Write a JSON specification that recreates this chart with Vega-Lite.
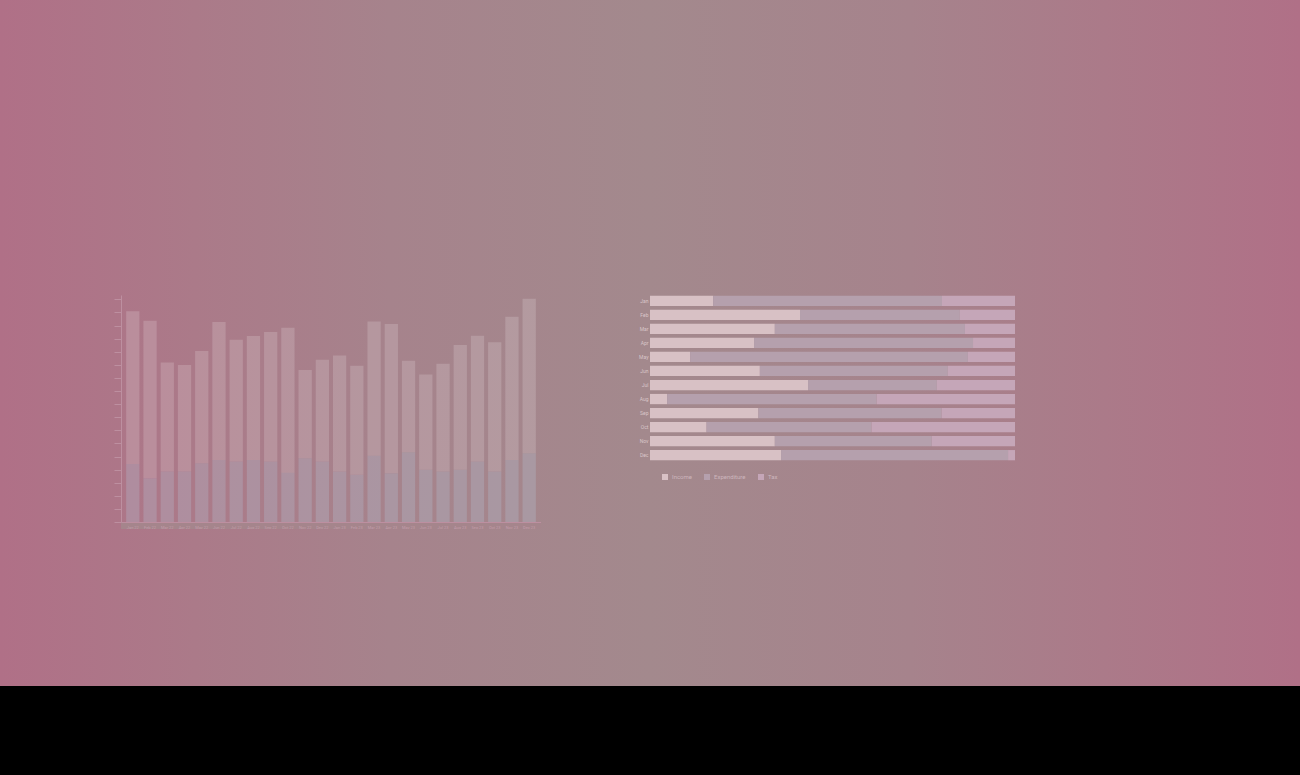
{
  "$schema": "https://vega.github.io/schema/vega-lite/v6.json",
  "background": "#a5858c",
  "padding": 0,
  "spacing": 0,
  "config": {
    "view": {"stroke": null},
    "font": "Roboto"
  },
  "datasets": {
    "blank": [{}],
    "left": [
      {"period": "Jan 22", "part": "Base", "value": 26.6}, {"period": "Jan 22", "part": "Top", "value": 69.9},
      {"period": "Feb 22", "part": "Base", "value": 20.0}, {"period": "Feb 22", "part": "Top", "value": 72.2},
      {"period": "Mar 22", "part": "Base", "value": 23.1}, {"period": "Mar 22", "part": "Top", "value": 50.0},
      {"period": "Apr 22", "part": "Base", "value": 23.1}, {"period": "Apr 22", "part": "Top", "value": 48.8},
      {"period": "May 22", "part": "Base", "value": 26.9}, {"period": "May 22", "part": "Top", "value": 51.5},
      {"period": "Jun 22", "part": "Base", "value": 28.4}, {"period": "Jun 22", "part": "Top", "value": 63.2},
      {"period": "Jul 22", "part": "Base", "value": 27.7}, {"period": "Jul 22", "part": "Top", "value": 55.8},
      {"period": "Aug 22", "part": "Base", "value": 28.4}, {"period": "Aug 22", "part": "Top", "value": 56.8},
      {"period": "Sep 22", "part": "Base", "value": 27.7}, {"period": "Sep 22", "part": "Top", "value": 59.3},
      {"period": "Oct 22", "part": "Base", "value": 22.6}, {"period": "Oct 22", "part": "Top", "value": 66.4},
      {"period": "Nov 22", "part": "Base", "value": 29.2}, {"period": "Nov 22", "part": "Top", "value": 40.4},
      {"period": "Dec 22", "part": "Base", "value": 27.7}, {"period": "Dec 22", "part": "Top", "value": 46.6},
      {"period": "Jan 23", "part": "Base", "value": 23.1}, {"period": "Jan 23", "part": "Top", "value": 53.2},
      {"period": "Feb 23", "part": "Base", "value": 21.6}, {"period": "Feb 23", "part": "Top", "value": 50.0},
      {"period": "Mar 23", "part": "Base", "value": 30.4}, {"period": "Mar 23", "part": "Top", "value": 61.5},
      {"period": "Apr 23", "part": "Base", "value": 22.3}, {"period": "Apr 23", "part": "Top", "value": 68.4},
      {"period": "May 23", "part": "Base", "value": 32.0}, {"period": "May 23", "part": "Top", "value": 41.9},
      {"period": "Jun 23", "part": "Base", "value": 23.9}, {"period": "Jun 23", "part": "Top", "value": 43.7},
      {"period": "Jul 23", "part": "Base", "value": 23.1}, {"period": "Jul 23", "part": "Top", "value": 49.4},
      {"period": "Aug 23", "part": "Base", "value": 23.9}, {"period": "Aug 23", "part": "Top", "value": 57.2},
      {"period": "Sep 23", "part": "Base", "value": 27.7}, {"period": "Sep 23", "part": "Top", "value": 57.6},
      {"period": "Oct 23", "part": "Base", "value": 23.1}, {"period": "Oct 23", "part": "Top", "value": 59.3},
      {"period": "Nov 23", "part": "Base", "value": 28.4}, {"period": "Nov 23", "part": "Top", "value": 65.6},
      {"period": "Dec 23", "part": "Base", "value": 31.5}, {"period": "Dec 23", "part": "Top", "value": 70.8}
    ],
    "right": [
      {"month": "Jan", "type": "Income", "share": 17.3}, {"month": "Jan", "type": "Expenditure", "share": 62.7}, {"month": "Jan", "type": "Tax", "share": 20.0},
      {"month": "Feb", "type": "Income", "share": 41.1}, {"month": "Feb", "type": "Expenditure", "share": 43.8}, {"month": "Feb", "type": "Tax", "share": 15.1},
      {"month": "Mar", "type": "Income", "share": 34.2}, {"month": "Mar", "type": "Expenditure", "share": 52.1}, {"month": "Mar", "type": "Tax", "share": 13.7},
      {"month": "Apr", "type": "Income", "share": 28.5}, {"month": "Apr", "type": "Expenditure", "share": 60.0}, {"month": "Apr", "type": "Tax", "share": 11.5},
      {"month": "May", "type": "Income", "share": 11.0}, {"month": "May", "type": "Expenditure", "share": 76.1}, {"month": "May", "type": "Tax", "share": 12.9},
      {"month": "Jun", "type": "Income", "share": 30.1}, {"month": "Jun", "type": "Expenditure", "share": 51.5}, {"month": "Jun", "type": "Tax", "share": 18.4},
      {"month": "Jul", "type": "Income", "share": 43.3}, {"month": "Jul", "type": "Expenditure", "share": 35.3}, {"month": "Jul", "type": "Tax", "share": 21.4},
      {"month": "Aug", "type": "Income", "share": 4.7}, {"month": "Aug", "type": "Expenditure", "share": 57.4}, {"month": "Aug", "type": "Tax", "share": 37.9},
      {"month": "Sep", "type": "Income", "share": 29.7}, {"month": "Sep", "type": "Expenditure", "share": 50.2}, {"month": "Sep", "type": "Tax", "share": 20.1},
      {"month": "Oct", "type": "Income", "share": 15.5}, {"month": "Oct", "type": "Expenditure", "share": 45.2}, {"month": "Oct", "type": "Tax", "share": 39.3},
      {"month": "Nov", "type": "Income", "share": 34.2}, {"month": "Nov", "type": "Expenditure", "share": 43.0}, {"month": "Nov", "type": "Tax", "share": 22.8},
      {"month": "Dec", "type": "Income", "share": 35.9}, {"month": "Dec", "type": "Expenditure", "share": 62.2}, {"month": "Dec", "type": "Tax", "share": 1.9}
    ]
  },
  "vconcat": [
    {
      "width": 1300, "height": 295,
      "view": {"fill": {"gradient": "linear", "x1": 0, "x2": 1, "y1": 0, "y2": 0, "stops": [{"offset": 0, "color": "#b07087"}, {"offset": 0.15, "color": "#ab7a89"}, {"offset": 0.3, "color": "#a6838c"}, {"offset": 0.5, "color": "#a3898d"}, {"offset": 0.7, "color": "#a6838c"}, {"offset": 0.85, "color": "#ab7a89"}, {"offset": 1, "color": "#b07087"}]}},
      "data": {"name": "blank"},
      "mark": {"type": "rect", "opacity": 0},
      "encoding": {}
    },
    {
      "spacing": 0,
      "bounds": "flush",
      "resolve": {"scale": {"color": "independent"}, "legend": {"color": "independent"}},
      "hconcat": [
        {
          "width": 121, "height": 234,
          "view": {"fill": {"gradient": "linear", "x1": 0, "x2": 10.7438, "y1": 0, "y2": 0, "stops": [{"offset": 0, "color": "#b07087"}, {"offset": 0.15, "color": "#ab7a89"}, {"offset": 0.3, "color": "#a6838c"}, {"offset": 0.5, "color": "#a3898d"}, {"offset": 0.7, "color": "#a6838c"}, {"offset": 0.85, "color": "#ab7a89"}, {"offset": 1, "color": "#b07087"}]}},
          "data": {"name": "blank"},
          "mark": {"type": "rect", "opacity": 0},
          "encoding": {}
        },
        {
          "width": 420, "height": 227,
          "view": {"fill": {"gradient": "linear", "x1": -0.2881, "x2": 2.8071, "y1": 0, "y2": 0, "stops": [{"offset": 0, "color": "#b07087"}, {"offset": 0.15, "color": "#ab7a89"}, {"offset": 0.3, "color": "#a6838c"}, {"offset": 0.5, "color": "#a3898d"}, {"offset": 0.7, "color": "#a6838c"}, {"offset": 0.85, "color": "#ab7a89"}, {"offset": 1, "color": "#b07087"}]}},
          "data": {"name": "left"},
          "mark": {"type": "bar"},
          "encoding": {
            "x": {
              "field": "period", "type": "nominal", "sort": null,
              "scale": {"paddingInner": 0.23, "paddingOuter": 0.3},
              "axis": {"title": null, "labelFontSize": 4, "labelAngle": 0, "labelColor": "#c39dab", "domainColor": "#bd8fa0", "tickSize": 0, "labelPadding": 3}
            },
            "y": {
              "field": "value", "type": "quantitative", "stack": "zero",
              "scale": {"domain": [0, 104], "nice": false},
              "axis": {"title": null, "labels": false, "grid": false, "values": [0, 6, 12, 18, 24, 30, 36, 42, 48, 54, 60, 66, 72, 78, 84, 90, 96, 102], "tickSize": 7, "tickColor": "#bd8fa0", "domainColor": "#bd8fa0"}
            },
            "color": {
              "field": "part", "type": "nominal",
              "scale": {"domain": ["Base", "Top"], "range": ["rgba(184, 206, 226, 0.25)", "rgba(255, 255, 255, 0.17)"]},
              "legend": null
            },
            "order": {"field": "part", "sort": "ascending"}
          }
        },
        {
          "width": 109, "height": 234,
          "view": {"fill": {"gradient": "linear", "x1": -4.9633, "x2": 6.9633, "y1": 0, "y2": 0, "stops": [{"offset": 0, "color": "#b07087"}, {"offset": 0.15, "color": "#ab7a89"}, {"offset": 0.3, "color": "#a6838c"}, {"offset": 0.5, "color": "#a3898d"}, {"offset": 0.7, "color": "#a6838c"}, {"offset": 0.85, "color": "#ab7a89"}, {"offset": 1, "color": "#b07087"}]}},
          "data": {"name": "blank"},
          "mark": {"type": "rect", "opacity": 0},
          "encoding": {}
        },
        {
          "width": 365, "height": 234,
          "view": {"fill": {"gradient": "linear", "x1": -1.7808, "x2": 1.7808, "y1": 0, "y2": 0, "stops": [{"offset": 0, "color": "#b07087"}, {"offset": 0.15, "color": "#ab7a89"}, {"offset": 0.3, "color": "#a6838c"}, {"offset": 0.5, "color": "#a3898d"}, {"offset": 0.7, "color": "#a6838c"}, {"offset": 0.85, "color": "#ab7a89"}, {"offset": 1, "color": "#b07087"}]}},
          "data": {"name": "right"},
          "transform": [
            {"calculate": "indexof(['Income', 'Expenditure', 'Tax'], datum.type)", "as": "stackRank"}
          ],
          "mark": {"type": "bar"},
          "encoding": {
            "y": {
              "field": "month", "type": "nominal", "sort": null,
              "scale": {"paddingInner": 0.27, "paddingOuter": 0.05, "range": [0, 166]},
              "axis": {"title": null, "domain": false, "ticks": false, "labelFontSize": 5, "labelColor": "#d9c6c9", "labelPadding": 2}
            },
            "x": {"field": "share", "type": "quantitative", "stack": "normalize", "axis": null},
            "color": {
              "field": "type", "type": "nominal", "sort": ["Income", "Expenditure", "Tax"],
              "scale": {"domain": ["Income", "Expenditure", "Tax"], "range": ["#d8c1c5", "#b5a0ad", "#c5a6b8"]},
              "legend": {"orient": "bottom", "direction": "horizontal", "title": null, "symbolType": "square", "symbolSize": 36, "symbolStrokeWidth": 0, "labelFontSize": 6, "labelColor": "#cdb6bd", "offset": -67, "padding": 12, "columnPadding": 12}
            },
            "order": {"field": "stackRank", "type": "quantitative", "sort": "ascending"}
          }
        },
        {
          "width": 285, "height": 234,
          "view": {"fill": {"gradient": "linear", "x1": -3.5614, "x2": 1, "y1": 0, "y2": 0, "stops": [{"offset": 0, "color": "#b07087"}, {"offset": 0.15, "color": "#ab7a89"}, {"offset": 0.3, "color": "#a6838c"}, {"offset": 0.5, "color": "#a3898d"}, {"offset": 0.7, "color": "#a6838c"}, {"offset": 0.85, "color": "#ab7a89"}, {"offset": 1, "color": "#b07087"}]}},
          "data": {"name": "blank"},
          "mark": {"type": "rect", "opacity": 0},
          "encoding": {}
        }
      ]
    },
    {
      "width": 1300, "height": 157,
      "view": {"fill": {"gradient": "linear", "x1": 0, "x2": 1, "y1": 0, "y2": 0, "stops": [{"offset": 0, "color": "#b07087"}, {"offset": 0.15, "color": "#ab7a89"}, {"offset": 0.3, "color": "#a6838c"}, {"offset": 0.5, "color": "#a3898d"}, {"offset": 0.7, "color": "#a6838c"}, {"offset": 0.85, "color": "#ab7a89"}, {"offset": 1, "color": "#b07087"}]}},
      "data": {"name": "blank"},
      "mark": {"type": "rect", "opacity": 0},
      "encoding": {}
    },
    {
      "width": 1300, "height": 89,
      "view": {"fill": "#000000"},
      "data": {"name": "blank"},
      "mark": {"type": "rect", "opacity": 0},
      "encoding": {}
    }
  ]
}
